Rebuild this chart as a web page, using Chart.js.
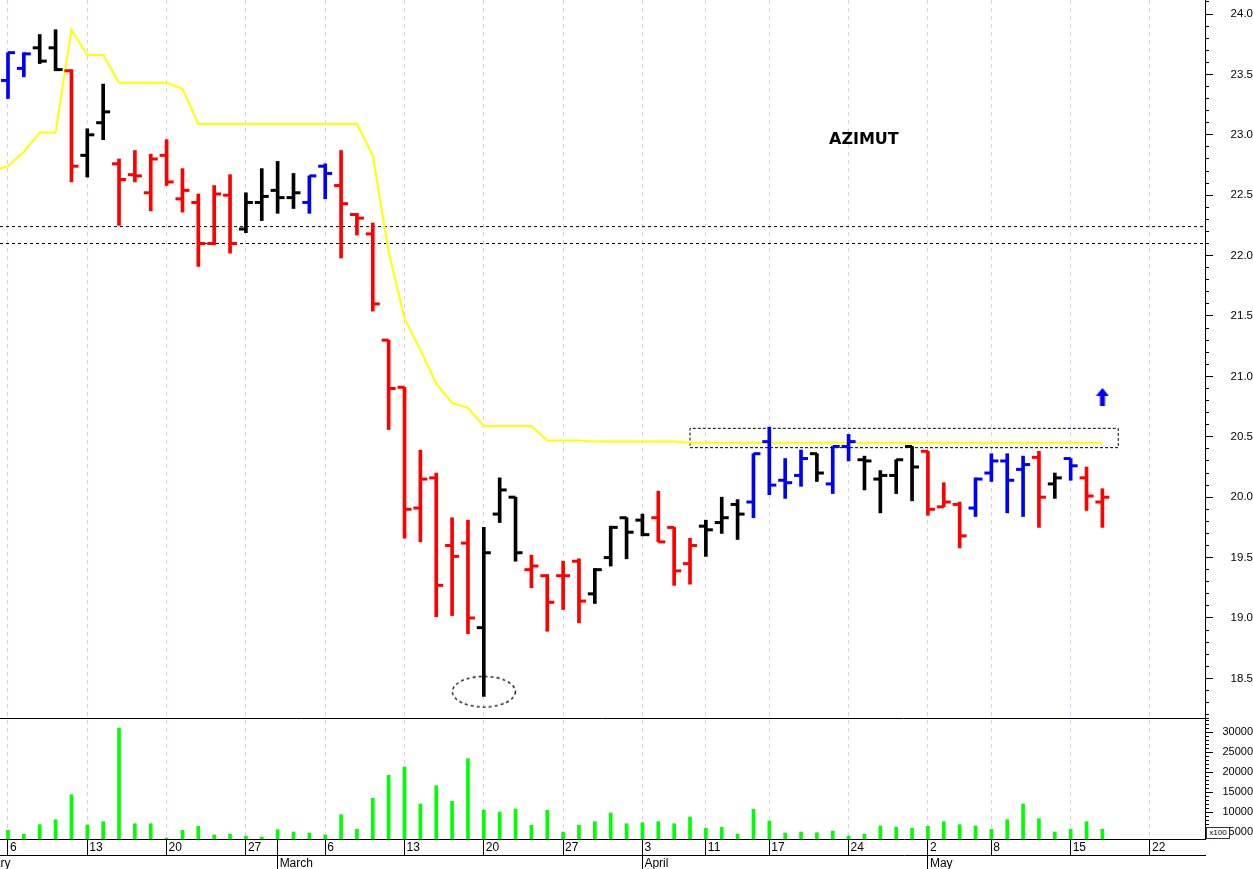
<!DOCTYPE html>
<html><head><meta charset="utf-8">
<script src="https://cdn.jsdelivr.net/npm/chart.js@4.4.1/dist/chart.umd.min.js"></script>
<style>
html,body{margin:0;padding:0;background:#fff;}
#wrap{position:relative;width:1253px;height:869px;overflow:hidden;background:#fff;}
#c{position:absolute;left:0;top:0;}
#title{position:absolute;left:829px;top:131px;font:bold 16px 'DejaVu Sans',Verdana,sans-serif;line-height:16px;color:#000;white-space:nowrap;}
#unit{position:absolute;left:1206px;top:827px;width:22px;height:10px;border:1px solid #333;background:#fff;font:8px Arial,'Liberation Sans',sans-serif;line-height:10px;text-align:center;color:#000;}
</style></head><body>
<div id="wrap"><canvas id="c" width="1253" height="869"></canvas>
<div id="title">AZIMUT</div><div id="unit">x100</div></div>
<script>
// ---------- data ----------
const dates = ['Feb 3',
 'Feb 6','Feb 7','Feb 8','Feb 9','Feb 10','Feb 13','Feb 14','Feb 15','Feb 16','Feb 17',
 'Feb 20','Feb 21','Feb 22','Feb 23','Feb 24','Feb 27','Feb 28','Mar 1','Mar 2','Mar 3',
 'Mar 6','Mar 7','Mar 8','Mar 9','Mar 10','Mar 13','Mar 14','Mar 15','Mar 16','Mar 17',
 'Mar 20','Mar 21','Mar 22','Mar 23','Mar 24','Mar 27','Mar 28','Mar 29','Mar 30','Mar 31',
 'Apr 3','Apr 4','Apr 5','Apr 6','Apr 11','Apr 12','Apr 13','Apr 14',
 'Apr 17','Apr 18','Apr 19','Apr 20','Apr 21','Apr 24','Apr 25','Apr 26','Apr 27','Apr 28',
 'May 2','May 3','May 4','May 5','May 8','May 9','May 10','May 11','May 12','May 15','May 16','May 17'];

const open = [23.50,
 23.45,23.55,23.72,23.72,23.53,22.83,23.10,22.76,22.67,22.52,
 22.83,22.47,22.44,22.10,22.50,22.22,22.44,22.54,22.48,22.44,
 22.74,22.58,22.34,22.18,21.30,20.91,19.91,20.16,19.60,19.62,
 18.92,19.86,20.00,19.40,19.35,19.35,19.47,19.20,19.50,19.83,
 19.81,19.83,19.75,19.45,19.76,19.79,19.94,19.96,20.46,20.14,
 20.18,20.36,20.11,20.42,20.31,20.15,20.18,20.42,20.38,19.92,
 19.94,19.91,20.20,20.30,20.23,20.33,20.11,20.32,20.16,19.96];
const high = [23.70,
 23.68,23.68,23.83,23.87,23.54,23.05,23.42,22.80,22.87,22.84,
 22.96,22.72,22.51,22.58,22.67,22.52,22.72,22.78,22.68,22.66,
 22.76,22.87,22.35,22.27,21.30,20.91,20.39,20.20,19.83,19.81,
 19.75,20.16,20.00,19.52,19.36,19.47,19.49,19.41,19.76,19.83,
 19.86,20.05,19.75,19.66,19.81,20.00,19.98,20.36,20.58,20.32,
 20.39,20.36,20.42,20.52,20.34,20.22,20.31,20.42,20.38,20.12,
 19.96,20.16,20.36,20.36,20.34,20.38,20.20,20.32,20.25,20.07];
const low = [23.40,
 23.30,23.48,23.59,23.53,22.61,22.65,22.96,22.25,22.61,22.37,
 22.58,22.36,21.91,22.09,22.02,22.19,22.29,22.35,22.39,22.35,
 22.47,21.98,22.17,21.54,20.56,19.66,19.63,19.01,19.02,18.87,
 18.35,19.79,19.47,19.25,18.89,19.07,18.96,19.12,19.43,19.49,
 19.68,19.63,19.27,19.28,19.51,19.70,19.65,19.83,20.02,19.99,
 20.09,20.13,20.03,20.30,20.06,19.87,20.03,19.97,19.85,19.92,
 19.58,19.84,20.13,19.87,19.84,19.75,19.99,20.14,19.89,19.75];
const close = [23.62,
 23.68,23.67,23.61,23.54,22.74,23.00,23.19,22.63,22.66,22.80,
 22.61,22.54,22.10,22.51,22.10,22.44,22.49,22.48,22.52,22.66,
 22.68,22.43,22.31,21.60,20.90,19.90,20.15,19.27,19.51,19.00,
 19.54,20.06,19.54,19.43,19.13,19.35,19.14,19.40,19.75,19.71,
 19.69,19.63,19.39,19.60,19.73,19.83,19.86,20.36,20.10,20.12,
 20.32,20.20,20.42,20.46,20.30,20.18,20.31,20.25,19.90,19.96,
 19.68,20.15,20.30,20.14,20.27,20.00,20.16,20.26,20.01,20.00];
const signal = ['up',
 'up','up','flat','flat','down','flat','flat','down','down','down',
 'down','down','down','down','down','flat','flat','flat','flat','up',
 'up','down','down','down','down','down','down','down','down','down',
 'flat','flat','flat','down','down','down','down','flat','flat','flat',
 'flat','down','down','down','flat','flat','flat','up','up','up',
 'up','flat','up','up','flat','flat','flat','flat','down','down',
 'down','up','up','up','up','down','flat','up','down','down'];
const volume = [5000,
 5425,4500,6825,8075,14325,6750,7575,31000,7075,7075,
 3500,5425,6425,4250,4500,4000,3750,5575,5000,4750,
 4250,9325,5675,13425,19175,21250,12000,16575,12675,23325,
 10500,10000,10750,6675,10425,5000,6675,7575,9750,7075,
 7325,7575,7075,8750,5925,6175,4500,10675,7750,4750,
 5000,4825,5250,4000,4500,6500,6175,5925,6425,7575,
 6825,6500,5675,8075,12000,8325,5000,5675,7575,5675];
const stop = [22.70,
 22.74,22.86,23.02,23.02,23.87,23.66,23.66,23.43,23.43,23.43,
 23.43,23.38,23.09,23.09,23.09,23.09,23.09,23.09,23.09,23.09,
 23.09,23.09,23.09,22.83,22.03,21.48,21.22,20.94,20.78,20.74,
 20.59,20.59,20.59,20.59,20.47,20.47,20.47,20.46,20.46,20.46,
 20.46,20.46,20.46,20.45,20.45,20.45,20.45,20.45,20.45,20.45,
 20.45,20.45,20.45,20.45,20.45,20.45,20.45,20.45,20.45,20.45,
 20.45,20.45,20.45,20.45,20.45,20.45,20.45,20.45,20.45,20.45];

const weekTicks  = [1,6,11,16,21,26,31,36,41,45,49,54,59,63,68,73];
const weekLabels = ['6','13','20','27','6','13','20','27','3','11','17','24','2','8','15','22'];
const monthTicks  = [-2,18,41,59];
const monthLabels = ['February','March','April','May'];
const priceLabels  = ['18.5','19.0','19.5','20.0','20.5','21.0','21.5','22.0','22.5','23.0','23.5','24.0'];
const volumeLabels = [5000,10000,15000,20000,25000,30000];

const supportHigh = 22.24, supportLow = 22.10;
const zoneStart = 44, zoneEnd = 71, zoneLow = 20.41, zoneHigh = 20.57;
const lowMarkIdx = 31, lowMarkValue = 18.39;
const arrowIdx = 70, arrowValue = 20.83;

// ---------- view settings ----------
const X_MIN = 0.496, X_MAX = 76.47;
const P_MIN = 18.172, P_MAX = 24.116;
const V_MIN = 3250, V_MAX = 33500;
const TICK_SHIFT = 0.22;
const AXIS_FONT = "Arial, 'Liberation Sans', sans-serif";
const palette = {up:'#0000ff', flat:'#000000', down:'#ff0000'};
const barColors = signal.map(s => palette[s]);
const idx = dates.map((_, i) => i);

function ellipseMark(){
  const c = document.createElement('canvas'); c.width = 66; c.height = 34;
  const g = c.getContext('2d');
  g.setLineDash([3,3]); g.strokeStyle = '#000'; g.lineWidth = 1.3;
  g.beginPath(); g.ellipse(33, 17, 31.5, 15.3, 0, 0, Math.PI*2); g.stroke();
  return c;
}
function arrowMark(){
  const c = document.createElement('canvas'); c.width = 14; c.height = 18;
  const g = c.getContext('2d');
  g.fillStyle = '#0000ff';
  g.beginPath(); g.moveTo(7,0); g.lineTo(13.5,8); g.lineTo(0.5,8); g.closePath(); g.fill();
  g.fillRect(4.5, 8, 5, 10);
  return c;
}
const zeroPad = s => { s.paddingTop = 0; s.paddingBottom = 0; s.paddingLeft = 0; s.paddingRight = 0; };
const isHalf = v => Math.abs(v*2 - Math.round(v*2)) < 1e-6;
const majorPrice = priceLabels.map(Number);

const xTickValues = Array.from(new Set(weekTicks.concat(monthTicks))).sort((a,b)=>a-b);

new Chart(document.getElementById('c'), {
  type: 'bar',
  data: {
    datasets: [
      { type:'scatter', label:'low mark', data:[{x:lowMarkIdx, y:lowMarkValue}], pointStyle: ellipseMark(), pointRadius:5, order:0 },
      { type:'scatter', label:'signal', data:[{x:arrowIdx, y:arrowValue}], pointStyle: arrowMark(), pointRadius:5, order:0 },
      { type:'scatter', label:'open', data: idx.map(i => ({x:i - TICK_SHIFT, y:open[i]})),
        pointStyle:'line', pointRadius:3.5, pointBorderWidth:3, pointBorderColor:barColors, pointBackgroundColor:barColors, order:1 },
      { type:'scatter', label:'close', data: idx.map(i => ({x:i + TICK_SHIFT, y:close[i]})),
        pointStyle:'line', pointRadius:3.5, pointBorderWidth:3, pointBorderColor:barColors, pointBackgroundColor:barColors, order:1 },
      { type:'bar', label:'range', data: idx.map(i => ({x:i, y:[low[i], high[i]]})),
        backgroundColor:barColors, barThickness:3, grouped:false, borderWidth:0, order:2 },
      { type:'line', label:'stop', data: idx.map(i => ({x:i, y:stop[i]})),
        borderColor:'#ffff00', borderWidth:2, pointRadius:0, tension:0, order:3 },
      { type:'line', label:'support high', data:[{x:X_MIN, y:supportHigh},{x:X_MAX, y:supportHigh}],
        borderColor:'#000', borderWidth:1, borderDash:[3,3], pointRadius:0, order:4 },
      { type:'line', label:'support low', data:[{x:X_MIN, y:supportLow},{x:X_MAX, y:supportLow}],
        borderColor:'#000', borderWidth:1, borderDash:[3,3], pointRadius:0, order:4 },
      { type:'line', label:'zone', data:[{x:zoneStart,y:zoneLow},{x:zoneEnd,y:zoneLow},{x:zoneEnd,y:zoneHigh},{x:zoneStart,y:zoneHigh},{x:zoneStart,y:zoneLow}],
        borderColor:'#000', borderWidth:1, borderDash:[3,2], pointRadius:0, order:4 },
      { type:'bar', label:'volume', yAxisID:'yv', data: idx.map(i => ({x:i, y:volume[i]})),
        backgroundColor:'#00ff00', barThickness:3, grouped:false, borderWidth:0, order:5 }
    ]
  },
  options: {
    responsive:false, animation:false, devicePixelRatio:1, events:[],
    layout:{ padding:0, autoPadding:false },
    plugins:{ legend:{display:false}, tooltip:{enabled:false}, title:{display:false} },
    scales: {
      x: {
        type:'linear', position:'bottom', min:X_MIN, max:X_MAX, bounds:'data', offset:false,
        afterBuildTicks: s => { s.ticks = xTickValues.map(v => ({value:v})); },
        afterFit: s => { s.height = 16; zeroPad(s); },
        grid: { offset:false, color: c => (c.tick && weekTicks.includes(c.tick.value)) ? '#d2d2ee' : 'rgba(0,0,0,0)',
                lineWidth:1, tickColor:'#000', tickLength:16, tickWidth:1, tickBorderDash:[] },
        border: { color:'#000', width:1, dash:[4,4] },
        ticks: { autoSkip:false, maxRotation:0, minRotation:0, align:'start', labelOffset:2, padding:-14.5,
                 color:'#000', font:{family:AXIS_FONT, size:12},
                 callback: v => { const k = weekTicks.indexOf(v); return k >= 0 ? weekLabels[k] : ''; } }
      },
      x2: {
        type:'linear', position:'bottom', min:X_MIN, max:X_MAX, bounds:'data', offset:false,
        afterBuildTicks: s => { s.ticks = monthTicks.map(v => ({value:v})); },
        afterFit: s => { s.height = 14; zeroPad(s); },
        grid: { offset:false, drawOnChartArea:false, tickColor:'#000', tickLength:14, tickWidth:1 },
        border: { color:'#000', width:1 },
        ticks: { autoSkip:false, maxRotation:0, minRotation:0, align:'start', labelOffset:2, padding:-12.5,
                 color:'#000', font:{family:AXIS_FONT, size:12},
                 callback: v => { const k = monthTicks.indexOf(v); return k >= 0 ? monthLabels[k] : ''; } }
      },
      y: {
        type:'linear', position:'right', stack:'panes', stackWeight:718, min:P_MIN, max:P_MAX, bounds:'data',
        afterBuildTicks: s => { const t = []; for (let k = Math.ceil(P_MIN*10); k <= Math.floor(P_MAX*10); k++) t.push({value:k/10}); s.ticks = t; },
        afterFit: s => { s.width = 48; zeroPad(s); },
        grid: { drawOnChartArea:false, tickColor:'#000', tickLength:8, tickWidth:1,
                tickBorderDash: c => (c.tick && isHalf(c.tick.value)) ? [] : [3,40] },
        border: { color:'#000', width:1 },
        ticks: { autoSkip:false, crossAlign:'far', padding:15, color:'#000', font:{family:AXIS_FONT, size:11.5},
                 callback: v => { const k = majorPrice.findIndex(m => Math.abs(m - v) < 1e-6); return k >= 0 ? priceLabels[k] : ''; } }
      },
      yv: {
        type:'linear', position:'right', stack:'panes', stackWeight:121, min:V_MIN, max:V_MAX, bounds:'data',
        afterBuildTicks: s => { const t = []; for (let k = Math.ceil(V_MIN/1000); k <= Math.floor(V_MAX/1000); k++) t.push({value:k*1000}); t.push({value:V_MAX}); s.ticks = t; },
        afterFit: s => { s.width = 48; zeroPad(s); },
        grid: { drawOnChartArea:true, color: c => (c.tick && c.tick.value === V_MAX) ? '#000' : 'rgba(0,0,0,0)',
                tickColor:'#000', tickLength:8, tickWidth:1,
                tickBorderDash: c => (c.tick && c.tick.value % 5000 === 0) ? [] : [3,40] },
        border: { color:'#000', width:1 },
        ticks: { autoSkip:false, crossAlign:'far', padding:6, color:'#000', font:{family:AXIS_FONT, size:11},
                 callback: v => volumeLabels.includes(v) ? String(v) : '' }
      }
    }
  }
});
</script>
</body></html>
